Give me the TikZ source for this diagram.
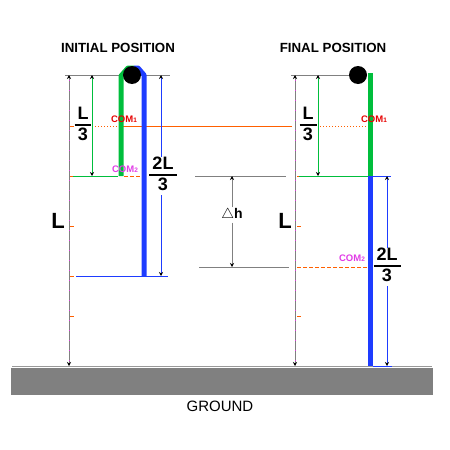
\documentclass[tikz,border=0pt]{standalone}
\usepackage{amsmath}
\usepackage{fontspec}
\setmainfont{Liberation Sans}
\usepackage{tikz}
\usetikzlibrary{arrows.meta}
\definecolor{ropegreen}{RGB}{0,190,60}
\definecolor{ropeblue}{RGB}{30,60,255}
\definecolor{comorange}{RGB}{255,96,0}
\definecolor{comred}{RGB}{230,0,0}
\definecolor{commag}{RGB}{225,60,230}
\definecolor{linegray}{RGB}{128,128,128}
\tikzset{ruler/.style={draw=linegray, line width=0.9pt}}
\tikzset{span/.style={{Stealth[black,length=4pt,width=4pt]}-{Stealth[black,length=4pt,width=4pt]}}}
\tikzset{upto/.style={-{Stealth[black,length=4pt,width=4pt]}}}
\tikzset{tick/.style={draw=comorange, line width=1pt}}
\tikzset{pinkdots/.style={draw=commag, line width=1pt, dash pattern=on 1pt off 9pt}}
\tikzset{comline/.style={draw=comorange, line width=1pt}}
\tikzset{rope/.style={line width=5pt, line join=round}}
\tikzset{title/.style={font=\fontsize{13.3}{14}\selectfont\bfseries}}
\tikzset{frac/.style={font=\fontsize{18}{18}\selectfont\bfseries, inner sep=0.5pt}}
\tikzset{bigL/.style={font=\fontsize{22}{22}\selectfont\bfseries}}
\tikzset{com/.style={font=\fontsize{9.5}{9.5}\selectfont\bfseries, inner sep=0pt}}
\newcommand{\frc}[2]{{\renewcommand\arraystretch{0.8}\setlength\arrayrulewidth{1.6pt}%
	\begin{tabular}{@{\,}c@{\,}}#1\\\hline\rule{0pt}{14.5pt}#2\end{tabular}}}
\newcommand{\comlbl}[1]{COM{\fontsize{6.5}{6.5}\selectfont #1}}

\begin{document}
\begin{tikzpicture}[x=1pt, y=-1pt]
	\useasboundingbox (0,0) rectangle (450,450);

	% GROUND
	\fill[linegray] (11,368) rectangle (433,395);
	\coordinate (ground west) at (12,366);	\coordinate (ground east) at (432,366);
	\draw[draw=linegray!80, line width=1pt] (ground west) -- (ground east);
	\node (ground) at (220,406) {\fontsize{15}{15}\selectfont GROUND};

	% LEFT: initial position
	\node[title] (ttlinit) at (118,48) {INITIAL POSITION};

	\coordinate (ltop west) at (65,75);		\coordinate (ltop east) at (170,75);
	\coordinate (lL top) at (69,75);		\coordinate (lL bot) at (69,366);
	\coordinate (l3 top) at (92,75);		\coordinate (l3 bot) at (92,176);
	\coordinate (l23 top) at (161,75);		\coordinate (l23 bot) at (161,276);

	\draw[ruler] (ltop west) -- (ltop east);
	\draw[ruler, span] (lL top) -- (lL bot);
	\draw[pinkdots] (69,80) -- (69,362);
	\foreach \y in {126,176,226,276,316}
		\draw[tick] (70,\y) -- (74,\y);
	\node[bigL] (lL) at (58,221) {L};

	% COM1 and COM2 levels
	\draw[comline, dash pattern=on 1pt off 2pt] (95,126) -- (118,126);
	\draw[comline] (123,126) -- (292,126);
	\draw[draw=ropegreen, line width=1pt] (73,176) -- (118,176);
	\draw[comline, dash pattern=on 4pt off 2pt] (124,176) -- (140,176);
	\draw[draw=ropeblue, line width=1pt] (76,276) -- (168,276);

	\draw[draw=ropegreen, line width=1pt, span] (l3 top) -- (l3 bot);
	\node[frac] (l3) at (83,126) {\frc{L}{3}};

	\node[frac, fill=white] (l23) at (163,176) {\frc{2L}{3}};
	\draw[draw=ropeblue, line width=1pt, upto] (l23.north -| l23 top) -- (l23 top);
	\draw[draw=ropeblue, line width=1pt, upto] (l23.south -| l23 bot) -- (l23 bot);

	% rope over the pulley
	\draw[rope, draw=ropegreen] (121,176) -- (121,76) -- (128,68) -- (134,68);
	\draw[rope, draw=ropeblue] (134,68) -- (138,68) -- (144,75) -- (144,276);
	\fill (132,75) circle (9);

	\node[com, text=comred] (lcom1) at (124,119) {\comlbl{1}};
	\node[com, text=commag] (lcom2) at (125,169) {\comlbl{2}};

	% MIDDLE: drop of COM2
	\coordinate (dh top) at (232,176);	\coordinate (dh bot) at (232,267);
	\draw[ruler] (195,176) -- (286,176);
	\draw[ruler] (199,267) -- (289,267);
	\node[fill=white, inner sep=1pt, font=\fontsize{14}{14}\selectfont\bfseries] (dh) at (232,215) {$\triangle$h};
	\draw[ruler, upto] (dh.north) -- (dh top);
	\draw[ruler, upto] (dh.south) -- (dh bot);

	% RIGHT: final position
	\node[title] (ttlfinal) at (333,48) {FINAL POSITION};

	\coordinate (rtop west) at (291,75);	\coordinate (rtop east) at (350,75);
	\coordinate (rL top) at (295,75);		\coordinate (rL bot) at (295,366);
	\coordinate (r3 top) at (318,75);		\coordinate (r3 bot) at (318,176);
	\coordinate (r23 top) at (387,176);		\coordinate (r23 bot) at (387,366);

	\draw[ruler] (rtop west) -- (rtop east);
	\draw[ruler, span] (rL top) -- (rL bot);
	\draw[pinkdots] (295,80) -- (295,362);
	\foreach \y in {176,226,316}
		\draw[tick] (297,\y) -- (301,\y);
	\node[bigL] (rL) at (285,221) {L};

	\draw[comline, dash pattern=on 1pt off 2pt] (320,126) -- (368,126);
	\draw[draw=ropegreen, line width=1pt] (299,176) -- (368,176);
	\draw[draw=ropeblue, line width=1pt] (370,176) -- (391,176);
	\draw[comline, dash pattern=on 4pt off 2pt] (297,267) -- (368,267);
	\draw[draw=ropeblue, line width=1pt] (373,366) -- (392,366);

	\draw[draw=ropegreen, line width=1pt, span] (r3 top) -- (r3 bot);
	\node[frac] (r3) at (308,126) {\frc{L}{3}};

	\node[frac, fill=white] (r23) at (387,267) {\frc{2L}{3}};
	\draw[draw=ropeblue, line width=1pt, upto] (r23.north) -- (r23 top);
	\draw[draw=ropeblue, line width=1pt, upto] (r23.south) -- (r23 bot);

	% hanging rope
	\draw[rope, draw=ropegreen] (370,73) -- (370,176);
	\draw[rope, draw=ropeblue] (370,176) -- (370,366);
	\fill (358,75) circle (9);

	\node[com, text=comred] (rcom1) at (374,119) {\comlbl{1}};
	\node[com, text=commag] (rcom2) at (352,258) {\comlbl{2}};
\end{tikzpicture}
\end{document}
